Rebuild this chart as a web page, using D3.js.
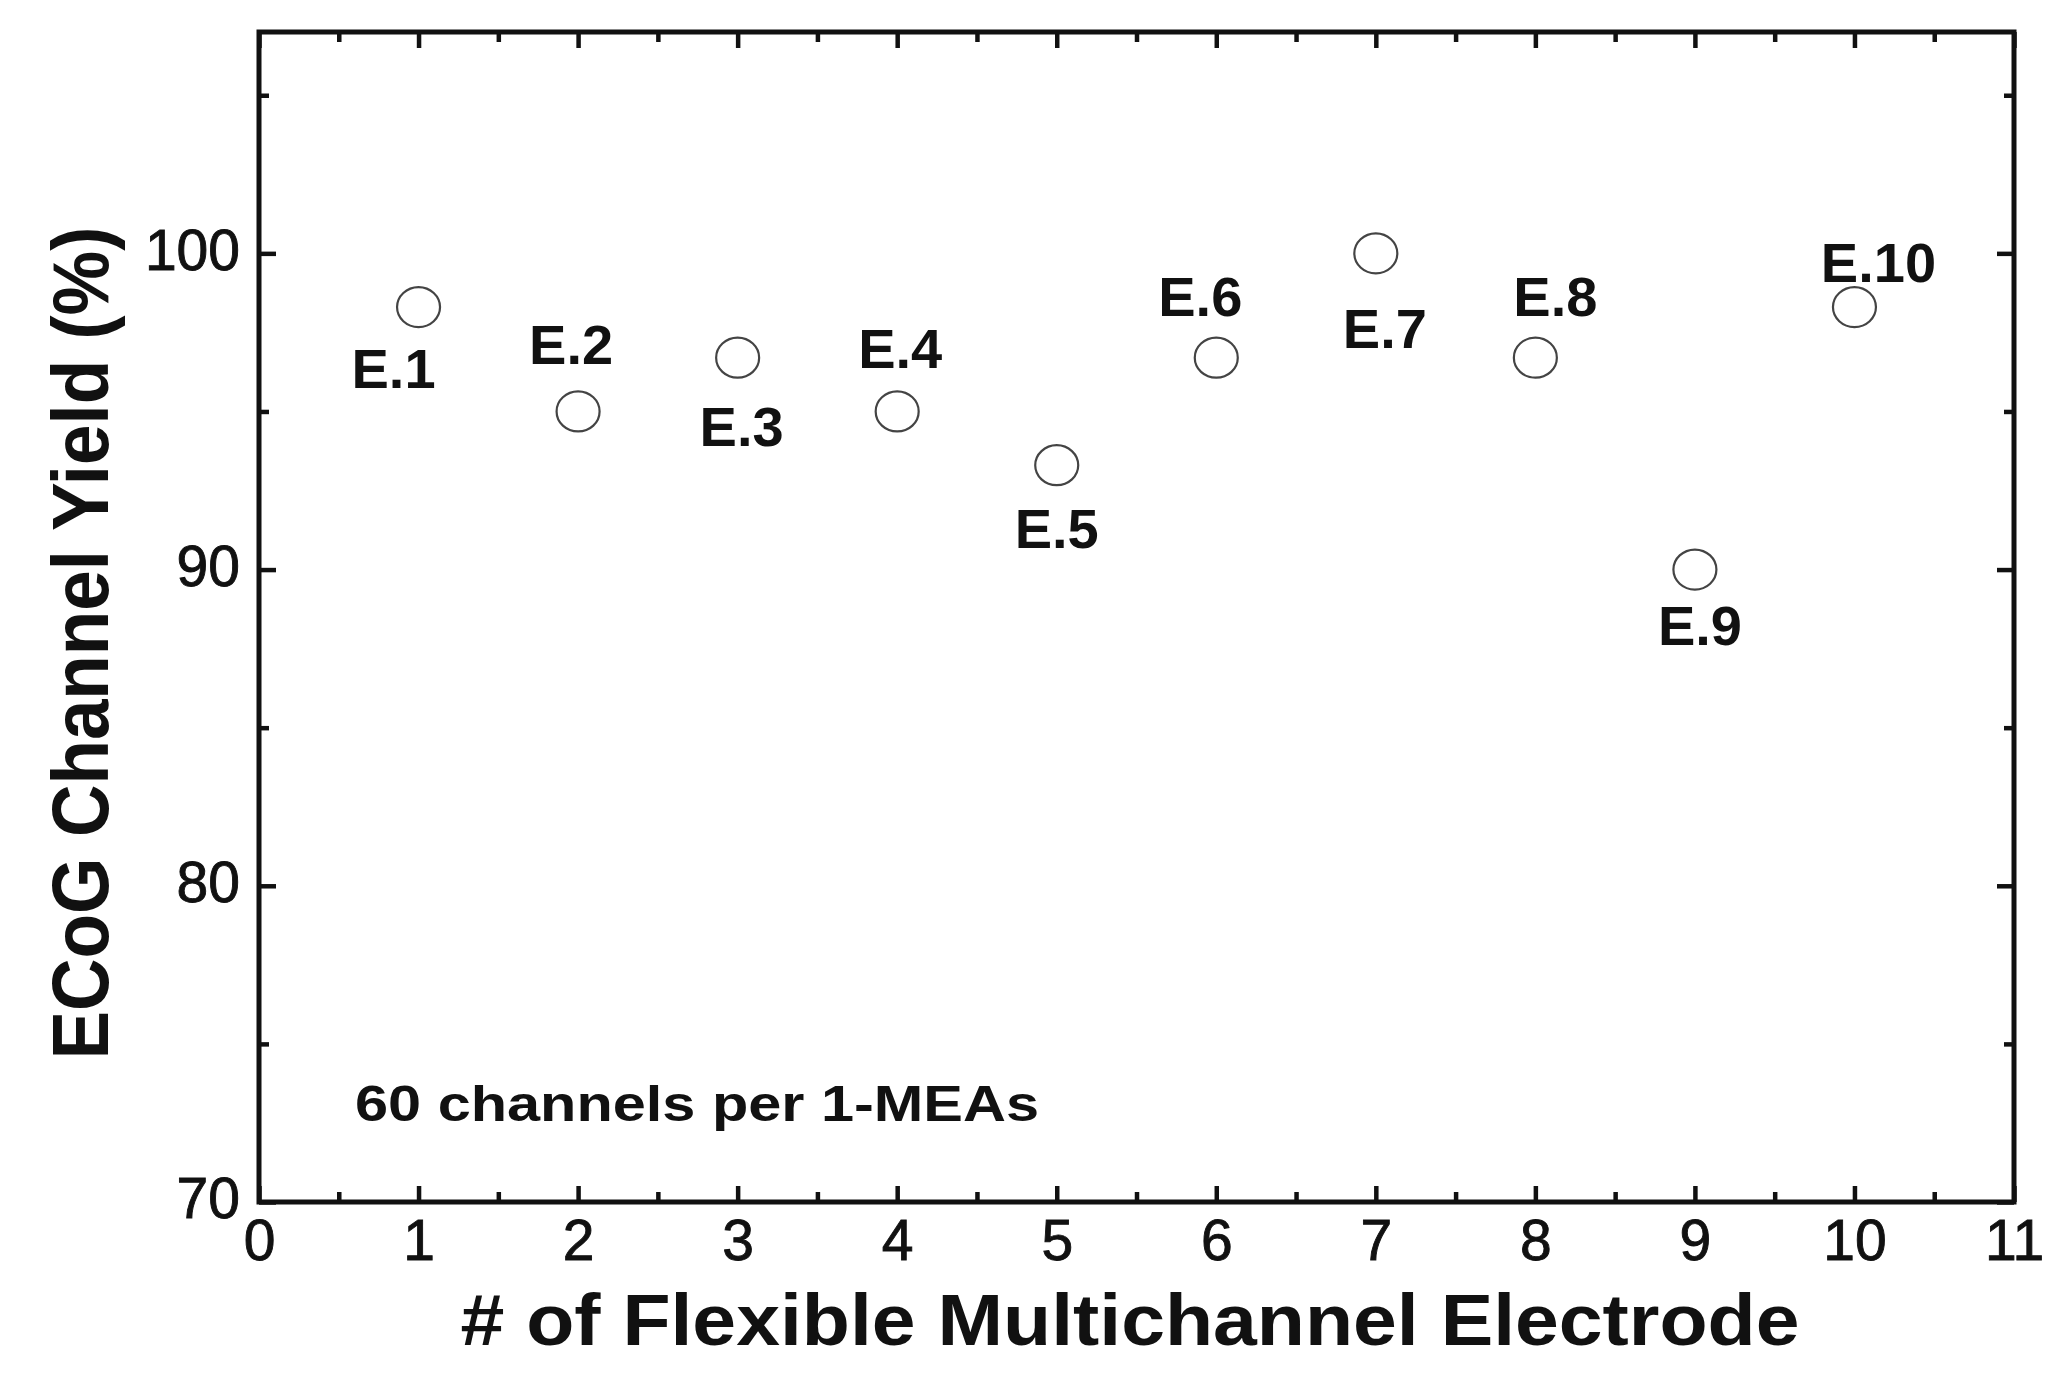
<!DOCTYPE html>
<html lang="en">
<head>
<meta charset="UTF-8">
<title>ECoG Channel Yield</title>
<script src="https://cdn.jsdelivr.net/npm/d3@7"></script>
<style>
  body { margin: 0; background: #fff; }
  svg { display: block; }
  .tick text { font-family: "Liberation Sans", Arial, sans-serif; fill: #111; stroke: #111; stroke-width: 0.9px; }
</style>
</head>
<body>
<svg id="chart" width="2064" height="1391"></svg>
<script>
// data
const electrodeNo = [1, 2, 3, 4, 5, 6, 7, 8, 9, 10];
const electrodeLabel = ["E.1", "E.2", "E.3", "E.4", "E.5", "E.6", "E.7", "E.8", "E.9", "E.10"];
const channelYield = [98.3, 95.0, 96.7, 95.0, 93.3, 96.7, 100.0, 96.7, 90.0, 98.3];

const xMajorTicks = [0, 1, 2, 3, 4, 5, 6, 7, 8, 9, 10, 11];
const xMinorTicks = [0.5, 1.5, 2.5, 3.5, 4.5, 5.5, 6.5, 7.5, 8.5, 9.5, 10.5];
const yMajorTicks = [70, 80, 90, 100];
const yMinorTicks = [75, 85, 95, 105];

// label placement around each marker (pixels, baseline relative to marker centre)
const labelDx = [-25, -7, 4, 3, 0, -16, 9, 20, 5, 24];
const labelDy = [81, -47, 88, -43, 83, -42, 95, -42, 75, -25];

const font = '"Liberation Sans", Arial, sans-serif';
const ink = "#111";

const margin = { top: 32, right: 50, bottom: 189, left: 259 };
const W = 2064, H = 1391;
const width = W - margin.left - margin.right;
const height = H - margin.top - margin.bottom;

const svg = d3.select("#chart");
const g = svg.append("g").attr("transform", `translate(${margin.left},${margin.top})`);

const x = d3.scaleLinear().domain([0, 11]).range([0, width]);
const y = d3.scaleLinear().domain([70, 107]).range([height, 0]);

function styleAxis(sel) {
  sel.select(".domain").remove();
  sel.selectAll(".tick line").attr("stroke", ink).attr("stroke-width", 4.5);
}

// bottom axis: ticks point inward
g.append("g")
  .attr("transform", `translate(0,${height})`)
  .call(d3.axisBottom(x).tickValues(xMajorTicks).tickSize(-16).tickPadding(58).tickFormat(d3.format("d")))
  .call(styleAxis)
  .call(s => s.selectAll(".tick text").attr("font-size", 57).attr("dy", 0));
g.append("g")
  .attr("transform", `translate(0,${height})`)
  .call(d3.axisBottom(x).tickValues(xMinorTicks).tickSize(-10).tickFormat(""))
  .call(styleAxis);

// top axis, ticks only
g.append("g")
  .call(d3.axisTop(x).tickValues(xMajorTicks).tickSize(-16).tickFormat(""))
  .call(styleAxis);
g.append("g")
  .call(d3.axisTop(x).tickValues(xMinorTicks).tickSize(-10).tickFormat(""))
  .call(styleAxis);

// left axis
g.append("g")
  .call(d3.axisLeft(y).tickValues(yMajorTicks).tickSize(-17).tickPadding(19).tickFormat(d3.format("d")))
  .call(styleAxis)
  .call(s => s.selectAll(".tick text").attr("font-size", 57).attr("dy", "0.28em"));
g.append("g")
  .call(d3.axisLeft(y).tickValues(yMinorTicks).tickSize(-10).tickFormat(""))
  .call(styleAxis);

// right axis, ticks only
g.append("g")
  .attr("transform", `translate(${width},0)`)
  .call(d3.axisRight(y).tickValues(yMajorTicks).tickSize(-17).tickFormat(""))
  .call(styleAxis);
g.append("g")
  .attr("transform", `translate(${width},0)`)
  .call(d3.axisRight(y).tickValues(yMinorTicks).tickSize(-10).tickFormat(""))
  .call(styleAxis);

// plot frame
g.append("rect")
  .attr("x", 0).attr("y", 0)
  .attr("width", width).attr("height", height)
  .attr("fill", "none")
  .attr("stroke", ink)
  .attr("stroke-width", 5);

// points
const pts = electrodeNo.map((n, i) => ({ n, v: channelYield[i], label: electrodeLabel[i], dx: labelDx[i], dy: labelDy[i] }));

g.selectAll("ellipse.pt")
  .data(pts)
  .enter().append("ellipse")
  .attr("class", "pt")
  .attr("cx", d => x(d.n))
  .attr("cy", d => y(d.v))
  .attr("rx", 21.5)
  .attr("ry", 20)
  .attr("fill", "#fff")
  .attr("stroke", "#444")
  .attr("stroke-width", 2.2);

g.selectAll("text.pt-label")
  .data(pts)
  .enter().append("text")
  .attr("class", "pt-label")
  .attr("x", d => x(d.n) + d.dx)
  .attr("y", d => y(d.v) + d.dy)
  .attr("text-anchor", "middle")
  .attr("font-family", font)
  .attr("font-weight", "bold")
  .attr("font-size", 56)
  .attr("fill", ink)
  .text(d => d.label);

// note inside plot
g.append("text")
  .attr("x", 355 - margin.left)
  .attr("y", 1121 - margin.top)
  .attr("font-family", font)
  .attr("font-weight", "bold")
  .attr("font-size", 50)
  .attr("textLength", 684)
  .attr("lengthAdjust", "spacingAndGlyphs")
  .attr("fill", ink)
  .text("60 channels per 1-MEAs");

// axis titles
svg.append("text")
  .attr("x", 1130)
  .attr("y", 1345)
  .attr("text-anchor", "middle")
  .attr("font-family", font)
  .attr("font-weight", "bold")
  .attr("font-size", 72)
  .attr("textLength", 1339)
  .attr("lengthAdjust", "spacingAndGlyphs")
  .attr("fill", ink)
  .text("# of Flexible Multichannel Electrode");

svg.append("text")
  .attr("transform", "translate(108,643) rotate(-90)")
  .attr("text-anchor", "middle")
  .attr("font-family", font)
  .attr("font-weight", "bold")
  .attr("font-size", 80)
  .attr("textLength", 833)
  .attr("lengthAdjust", "spacingAndGlyphs")
  .attr("fill", ink)
  .text("ECoG Channel Yield (%)");
</script>
</body>
</html>
